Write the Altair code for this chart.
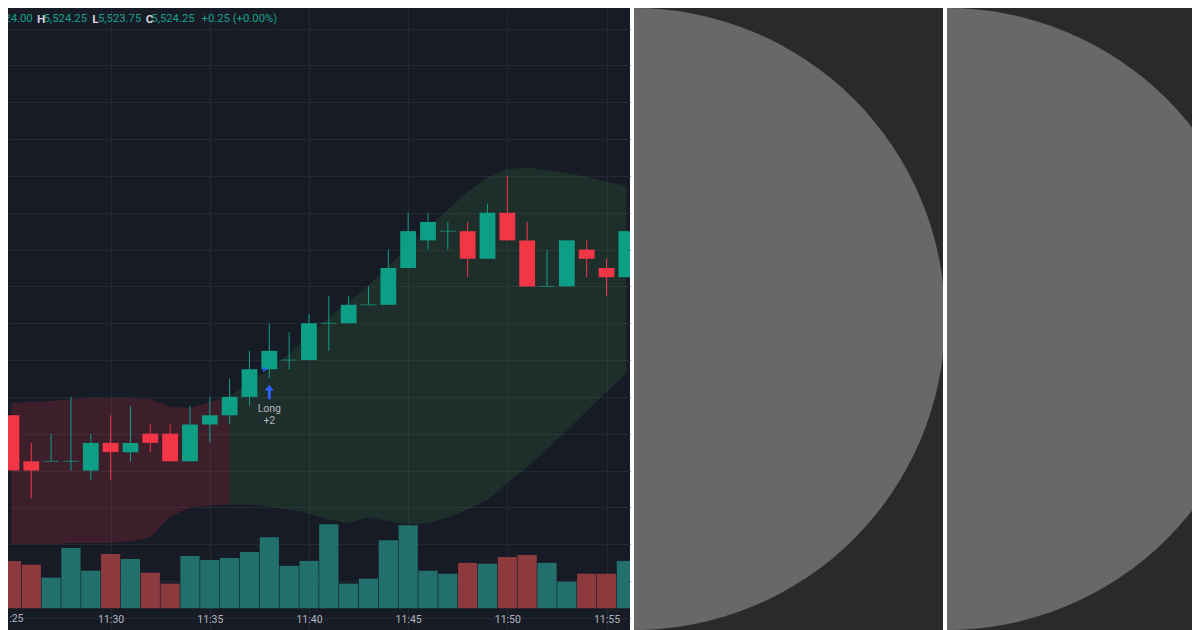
import altair as alt
import pandas as pd

# ---------------- data ----------------
minutes = ["11:25", "11:26", "11:27", "11:28", "11:29", "11:30", "11:31", "11:32",
           "11:33", "11:34", "11:35", "11:36", "11:37", "11:38", "11:39", "11:40",
           "11:41", "11:42", "11:43", "11:44", "11:45", "11:46", "11:47", "11:48",
           "11:49", "11:50", "11:51", "11:52", "11:53", "11:54", "11:55", "11:56"]
opens = [5519.50, 5518.25, 5518.25, 5518.25, 5518.00, 5518.75, 5518.50, 5519.00,
         5519.00, 5518.25, 5519.25, 5519.50, 5520.00, 5520.75, 5521.00, 5521.00,
         5522.00, 5522.00, 5522.50, 5522.50, 5523.50, 5524.25, 5524.50, 5524.50,
         5523.75, 5525.00, 5524.25, 5523.00, 5523.00, 5524.00, 5523.50, 5523.25]
highs = [5519.50, 5518.75, 5519.00, 5520.00, 5519.00, 5519.50, 5519.75, 5519.25,
         5519.25, 5519.75, 5520.00, 5520.50, 5521.25, 5522.00, 5521.75, 5522.25,
         5522.75, 5522.75, 5523.00, 5524.00, 5525.00, 5525.00, 5524.75, 5524.75,
         5525.25, 5526.00, 5524.75, 5524.00, 5524.25, 5524.25, 5523.75, 5524.50]
lows = [5518.00, 5517.25, 5518.25, 5518.00, 5517.75, 5517.75, 5518.25, 5518.50,
        5518.25, 5518.25, 5518.75, 5519.25, 5519.75, 5520.50, 5520.75, 5521.00,
        5521.25, 5522.00, 5522.50, 5522.50, 5523.50, 5524.00, 5524.00, 5523.25,
        5523.75, 5524.25, 5523.00, 5523.00, 5523.00, 5523.25, 5522.75, 5523.25]
closes = [5518.00, 5518.00, 5518.25, 5518.25, 5518.75, 5518.50, 5518.75, 5518.75,
          5518.25, 5519.25, 5519.50, 5520.00, 5520.75, 5521.25, 5521.00, 5522.00,
          5522.00, 5522.50, 5522.50, 5523.50, 5524.50, 5524.75, 5524.50, 5523.75,
          5525.00, 5524.25, 5523.00, 5523.00, 5524.25, 5523.75, 5523.25, 5524.50]
volumes = [2400, 2200, 1550, 3050, 1900, 2750, 2500, 1800,
           1250, 2650, 2450, 2550, 2850, 3600, 2150, 2400,
           4250, 1250, 1500, 3450, 4200, 1900, 1750, 2300,
           2250, 2600, 2700, 2300, 1350, 1750, 1750, 2400]
band_upper = [5519.84, 5519.86, 5519.89, 5519.94, 5519.97, 5519.97, 5519.97, 5519.94,
              5519.73, 5519.70, 5519.86, 5520.02, 5520.37, 5520.75, 5521.18, 5521.66,
              5522.17, 5522.57, 5523.03, 5523.54, 5524.07, 5524.61, 5525.09, 5525.57,
              5525.95, 5526.19, 5526.22, 5526.16, 5526.08, 5525.98, 5525.84, 5525.73]
band_lower = [5516.00, 5516.00, 5516.00, 5516.03, 5516.03, 5516.03, 5516.08, 5516.19,
              5516.75, 5516.99, 5517.05, 5517.08, 5517.08, 5517.02, 5516.94, 5516.83,
              5516.67, 5516.57, 5516.73, 5516.62, 5516.54, 5516.57, 5516.73, 5516.94,
              5517.21, 5517.66, 5518.09, 5518.58, 5519.09, 5519.62, 5520.13, 5520.64]
band_state = ["bear"] * 11 + ["bull"] * 21

tick_labels = ["11:25", "11:30", "11:35", "11:40", "11:45", "11:50", "11:55"]
price_grid = [5514, 5515, 5516, 5517, 5518, 5519, 5520, 5521, 5522,
              5523, 5524, 5525, 5526, 5527, 5528, 5529, 5530]

hdr_letters = ["O", "H", "L", "C"]
hdr_values = ["5,524.00", "5,524.25", "5,523.75", "5,524.25"]
hdr_change = "+0.25 (+0.00%)"

trade_time = "11:38"
trade_price = 5520.75
trade_side = "Long"
trade_qty = "+2"

disc_parts = ["disc", "rest"]
disc_share = [1, 1]

# ---------------- styling ----------------
BG = "#171b26"
GRID = "#242835"
UP = "#0d9f86"
DOWN = "#f23645"
VOL_UP = "#22706b"
VOL_DOWN = "#8c3a3e"
TXT = "#b2b5be"
HDR_VAL = "#16a08b"
HDR_LET = "#d1d4dc"
BLUE = "#2962ff"
FONT = "Roboto"
S = 622 / 630.0          # reference px -> chart px (panel 1)
W1, H = 622, 622
W2, W3 = 309, 245
R = 311                  # disc radius
AXFS = 10.5


def ts(hm):
    return f"2024-06-14T{hm}:00"


def dt(hm, sec=0, ms=0):
    h, m = hm.split(":")
    return alt.DateTime(year=2024, month=6, date=14,
                        hours=int(h), minutes=int(m), seconds=sec, milliseconds=ms)


df = pd.DataFrame({
    "time": [ts(m) for m in minutes],
    "open": opens, "high": highs, "low": lows, "close": closes,
    "volume": volumes, "upper": band_upper, "lower": band_lower,
    "state": band_state,
})
first_bull = band_state.index("bull")
df_red = df.iloc[: first_bull + 1]
df_green = df.iloc[first_bull:]
df_doji = df[df["open"] == df["close"]]

x_scale = alt.Scale(domain=[dt("11:25", 4, 700), dt("11:55", 55, 900)], nice=False)
p_scale = alt.Scale(domain=[5513.67, 5530.56], zero=False, nice=False)
v_scale = alt.Scale(domain=[-1100, 30400], zero=False, nice=False)

AX_OFF = -17
AX_PAD = 1
x_axis = alt.Axis(values=[dt(t) for t in tick_labels[1:]], format="%H:%M",
                  grid=True, gridColor=GRID, gridWidth=1, ticks=False, tickSize=0,
                  domain=False, offset=AX_OFF, labelPadding=AX_PAD,
                  labelColor=TXT, labelFontSize=AXFS, labelFont=FONT,
                  labelFlush=False, labelOverlap=False, title=None)
y_axis = alt.Axis(values=price_grid, grid=True, gridColor=GRID, gridWidth=1,
                  labels=False, ticks=False, domain=False, title=None, orient="right")

X = alt.X("time:T", scale=x_scale, axis=x_axis)
up_cond = "datum.close >= datum.open"

band_red = alt.Chart(df_red).mark_area(color=DOWN, opacity=0.17, clip=True).encode(
    x=X, y=alt.Y("upper:Q", scale=p_scale, axis=y_axis), y2="lower:Q")
band_green = alt.Chart(df_green).mark_area(color="#4caf50", opacity=0.13, clip=True).encode(
    x=X, y=alt.Y("upper:Q", scale=p_scale, axis=None), y2="lower:Q")

vol = alt.Chart(df).mark_bar(size=19.2, clip=True).encode(
    x=X, y=alt.Y("volume:Q", scale=v_scale, axis=None), y2=alt.datum(0),
    color=alt.condition(up_cond, alt.value(VOL_UP), alt.value(VOL_DOWN)))

wicks = alt.Chart(df).mark_rule(strokeWidth=1, clip=True).encode(
    x=X, y=alt.Y("low:Q", scale=p_scale, axis=None), y2="high:Q",
    color=alt.condition(up_cond, alt.value(UP), alt.value(DOWN)))
bodies = alt.Chart(df).mark_bar(size=15.8, clip=True).encode(
    x=X, y=alt.Y("open:Q", scale=p_scale, axis=None), y2="close:Q",
    color=alt.condition(up_cond, alt.value(UP), alt.value(DOWN)))
dojis = alt.Chart(df_doji).mark_tick(size=15.8, thickness=1, orient="horizontal", clip=True).encode(
    x=X, y=alt.Y("close:Q", scale=p_scale, axis=None), color=alt.value(UP))

# partially visible first time label
first_label = alt.Chart().mark_text(
    clip=True, baseline="top", align="center", font=FONT, fontSize=AXFS, color=TXT, dx=-1).encode(
    x=alt.datum(dt(tick_labels[0])), y=alt.value(H + AX_OFF + AX_PAD), text=alt.value(tick_labels[0]))

# trade marker & annotation
ARROW = "M0,-1L0.62,-0.2L0.2,-0.2L0.2,1L-0.2,1L-0.2,-0.2L-0.62,-0.2Z"
tdf = pd.DataFrame({"time": [ts(trade_time)], "price": [trade_price],
                    "side": [trade_side], "qty": [trade_qty]})
t_mark = alt.Chart(tdf).mark_point(shape="triangle-right", filled=True, size=28,
                                   color=BLUE, opacity=1, xOffset=-4 * S).encode(
    x=X, y=alt.Y("price:Q", scale=p_scale, axis=None))
t_arrow = alt.Chart(tdf).mark_point(shape=ARROW, filled=True, size=210, color=BLUE,
                                    opacity=1, yOffset=23 * S).encode(
    x=X, y=alt.Y("price:Q", scale=p_scale, axis=None))
t_side = alt.Chart(tdf).mark_text(font=FONT, fontSize=10.5, color=TXT, dy=40 * S).encode(
    x=X, y=alt.Y("price:Q", scale=p_scale, axis=None), text="side:N")
t_qty = alt.Chart(tdf).mark_text(font=FONT, fontSize=10.5, color=TXT, dy=52 * S).encode(
    x=X, y=alt.Y("price:Q", scale=p_scale, axis=None), text="qty:N")

# header (OHLC legend): letters centred, values right-aligned at their ends
hdr_layers = []
letter_x = [-22, 33.5, 88.5, 143.5]
value_end = [25, 80, 135, 189]
HFS = 11.3
for i in range(4):
    hdr_layers.append(alt.Chart().mark_text(
        clip=True, align="center", baseline="middle", font=FONT, fontSize=HFS + 0.5,
        fontWeight="bold", color=HDR_LET).encode(
        x=alt.value(letter_x[i] * S), y=alt.value(11 * S), text=alt.value(hdr_letters[i])))
    hdr_layers.append(alt.Chart().mark_text(
        clip=True, align="right", baseline="middle", font=FONT, fontSize=HFS,
        color=HDR_VAL).encode(
        x=alt.value(value_end[i] * S), y=alt.value(11 * S), text=alt.value(hdr_values[i])))
hdr_layers.append(alt.Chart().mark_text(
    clip=True, align="left", baseline="middle", font=FONT, fontSize=HFS,
    color=HDR_VAL).encode(
    x=alt.value(196 * S), y=alt.value(11 * S), text=alt.value(hdr_change)))

panel1 = alt.layer(
    band_red, band_green, vol, wicks, bodies, dojis, first_label,
    t_mark, t_arrow, t_side, t_qty, *hdr_layers
).resolve_scale(y="independent").properties(
    width=W1, height=H, view=alt.ViewBackground(fill=BG, strokeWidth=0))

# half-disc panels
ddf = pd.DataFrame({"part": disc_parts, "share": disc_share})


def disc_panel(w):
    return alt.Chart(ddf).mark_arc(radius=R, clip=True).encode(
        theta=alt.Theta("share:Q", stack=True),
        order=alt.Order("part:N", sort="ascending"),
        color=alt.Color("part:N", scale=alt.Scale(domain=disc_parts,
                                                  range=["#686868", "#2a2a2a"]), legend=None),
        x=alt.value(0), y=alt.value(H / 2),
    ).properties(width=w, height=H, view=alt.ViewBackground(fill="#2a2a2a", strokeWidth=0))


chart = alt.hconcat(panel1, disc_panel(W2), disc_panel(W3), spacing=4).properties(
    padding=0, background="white"
).configure_view(strokeWidth=0)

chart.save("out.html", embed_options={"renderer": "svg", "actions": False})
